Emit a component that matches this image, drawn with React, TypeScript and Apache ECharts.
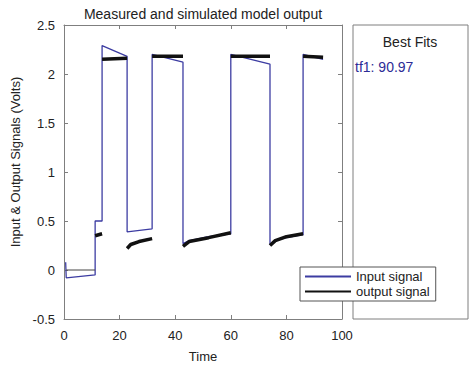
import { useEffect, useRef } from "react";
import * as echarts from "echarts";

const xTicks = [0, 20, 40, 60, 80, 100];
const yTicks = [-0.5, 0, 0.5, 1, 1.5, 2, 2.5];
const seriesNames = ["Input signal", "output signal"];

// simulated (blue)
const inputSignal: [number, number][] = [
  [0.6, 0.08], [0.8, -0.08], [11.2, -0.05], [11.2, 0.5], [13.7, 0.5],
  [13.7, 2.29], [22.7, 2.18], [22.7, 0.39], [31.7, 0.42],
  [31.7, 2.2], [42.8, 2.12], [42.8, 0.27], [45, 0.3], [52, 0.34], [60, 0.37],
  [60, 2.2], [74.1, 2.1], [74.1, 0.26], [76, 0.3], [80, 0.33], [86, 0.36],
  [86, 2.2], [93.2, 2.15],
];

// measured (black): quiet baseline before the first step
const outputBaseline: [number, number][] = [[0.8, 0], [11.2, 0]];

// measured (black): noisy plateaus, "-" marks a break at each step
const outputSignal: [number, number | string][] = [
  [11.2, 0.35], [13.7, 0.37], [13.7, "-"],
  [13.7, 2.15], [22.7, 2.16], [22.7, "-"],
  [22.7, 0.22], [24, 0.26], [27, 0.29], [31.7, 0.32], [31.7, "-"],
  [31.7, 2.18], [42.8, 2.18], [42.8, "-"],
  [42.8, 0.24], [45, 0.29], [52, 0.33], [60, 0.38], [60, "-"],
  [60, 2.18], [74.1, 2.18], [74.1, "-"],
  [74.1, 0.25], [76, 0.3], [80, 0.34], [86, 0.37], [86, "-"],
  [86, 2.18], [93.2, 2.17],
];

const titleText = "Measured and simulated model output";
const xName = "Time";
const yName = "Input & Output Signals (Volts)";
const panelTitle = "Best Fits";
const fitLabel = "tf1: 90.97";

const FONT = "'Liberation Sans', Arial, sans-serif";
const AXIS_COLOR = "#7f7f7f";
const TEXT_COLOR = "#222";
const BLUE = "#3c3ca2";
const BLACK = "#111111";

export default function App() {
  const ref = useRef<HTMLDivElement>(null);
  useEffect(() => {
    if (!ref.current) return;
    const chart = echarts.init(ref.current, undefined, { renderer: "svg" });
    const axisCommon = {
      type: "value" as const,
      axisLine: { show: true, onZero: false, lineStyle: { color: AXIS_COLOR, width: 1 } },
      axisTick: { show: true, inside: true, length: 4, lineStyle: { color: AXIS_COLOR } },
      splitLine: { show: false },
    };
    chart.setOption({
      animation: false,
      backgroundColor: "#fff",
      textStyle: { fontFamily: FONT },
      grid: { left: 64, top: 25, width: 278, height: 294 },
      xAxis: [
        {
          ...axisCommon,
          min: xTicks[0],
          max: xTicks[xTicks.length - 1],
          interval: xTicks[1] - xTicks[0],
          position: "bottom",
          axisLabel: { color: TEXT_COLOR, fontSize: 13, fontFamily: FONT, margin: 10 },
        },
        {
          ...axisCommon,
          min: xTicks[0],
          max: xTicks[xTicks.length - 1],
          interval: xTicks[1] - xTicks[0],
          position: "top",
          axisLabel: { show: false },
        },
      ],
      yAxis: [
        {
          ...axisCommon,
          min: yTicks[0],
          max: yTicks[yTicks.length - 1],
          interval: yTicks[1] - yTicks[0],
          position: "left",
          axisLabel: { color: TEXT_COLOR, fontSize: 13, fontFamily: FONT, margin: 9 },
        },
        {
          ...axisCommon,
          min: yTicks[0],
          max: yTicks[yTicks.length - 1],
          interval: yTicks[1] - yTicks[0],
          position: "right",
          axisLabel: { show: false },
        },
      ],
      legend: {
        data: seriesNames,
        orient: "vertical",
        left: 300,
        top: 267,
        icon: "rect",
        itemWidth: 46,
        itemHeight: 2,
        itemGap: 2,
        itemStyle: { borderWidth: 0 },
        padding: [3, 6, 3, 5],
        borderColor: "#555",
        borderWidth: 1,
        backgroundColor: "#fff",
        textStyle: { color: TEXT_COLOR, fontSize: 13, fontFamily: FONT },
        z: 10,
      },
      graphic: [
        {
          type: "rect",
          z: -1,
          shape: { x: 353, y: 25, width: 115, height: 294 },
          style: { fill: "#fff", stroke: AXIS_COLOR, lineWidth: 1 },
        },
        {
          type: "text",
          x: 410,
          y: 42,
          style: { text: panelTitle, fill: TEXT_COLOR, font: `14px ${FONT}`, align: "center", verticalAlign: "middle" },
        },
        {
          type: "text",
          x: 355,
          y: 67,
          style: { text: fitLabel, fill: "#2c2c96", font: `14px ${FONT}`, align: "left", verticalAlign: "middle" },
        },
        {
          type: "text",
          x: 203,
          y: 14,
          style: { text: titleText, fill: TEXT_COLOR, font: `14px ${FONT}`, align: "center", verticalAlign: "middle" },
        },
        {
          type: "text",
          x: 203,
          y: 356,
          style: { text: xName, fill: TEXT_COLOR, font: `13px ${FONT}`, align: "center", verticalAlign: "middle" },
        },
        {
          type: "text",
          x: 15,
          y: 162,
          rotation: Math.PI / 2,
          style: { text: yName, fill: TEXT_COLOR, font: `13px ${FONT}`, align: "center", verticalAlign: "middle" },
        },
      ],
      series: [
        {
          name: seriesNames[0],
          type: "line",
          data: inputSignal,
          showSymbol: false,
          color: BLUE,
          lineStyle: { color: BLUE, width: 1.3 },
          z: 2,
        },
        {
          name: seriesNames[1],
          type: "line",
          data: outputBaseline,
          showSymbol: false,
          color: BLACK,
          lineStyle: { color: "#444", width: 1 },
          z: 3,
        },
        {
          name: seriesNames[1],
          type: "line",
          data: outputSignal,
          showSymbol: false,
          connectNulls: false,
          color: BLACK,
          lineStyle: { color: BLACK, width: 3.5 },
          z: 3,
        },
      ],
    });
    return () => chart.dispose();
  }, []);
  return <div ref={ref} style={{ position: "fixed", left: 0, top: 0, width: 474, height: 370 }} />;
}
